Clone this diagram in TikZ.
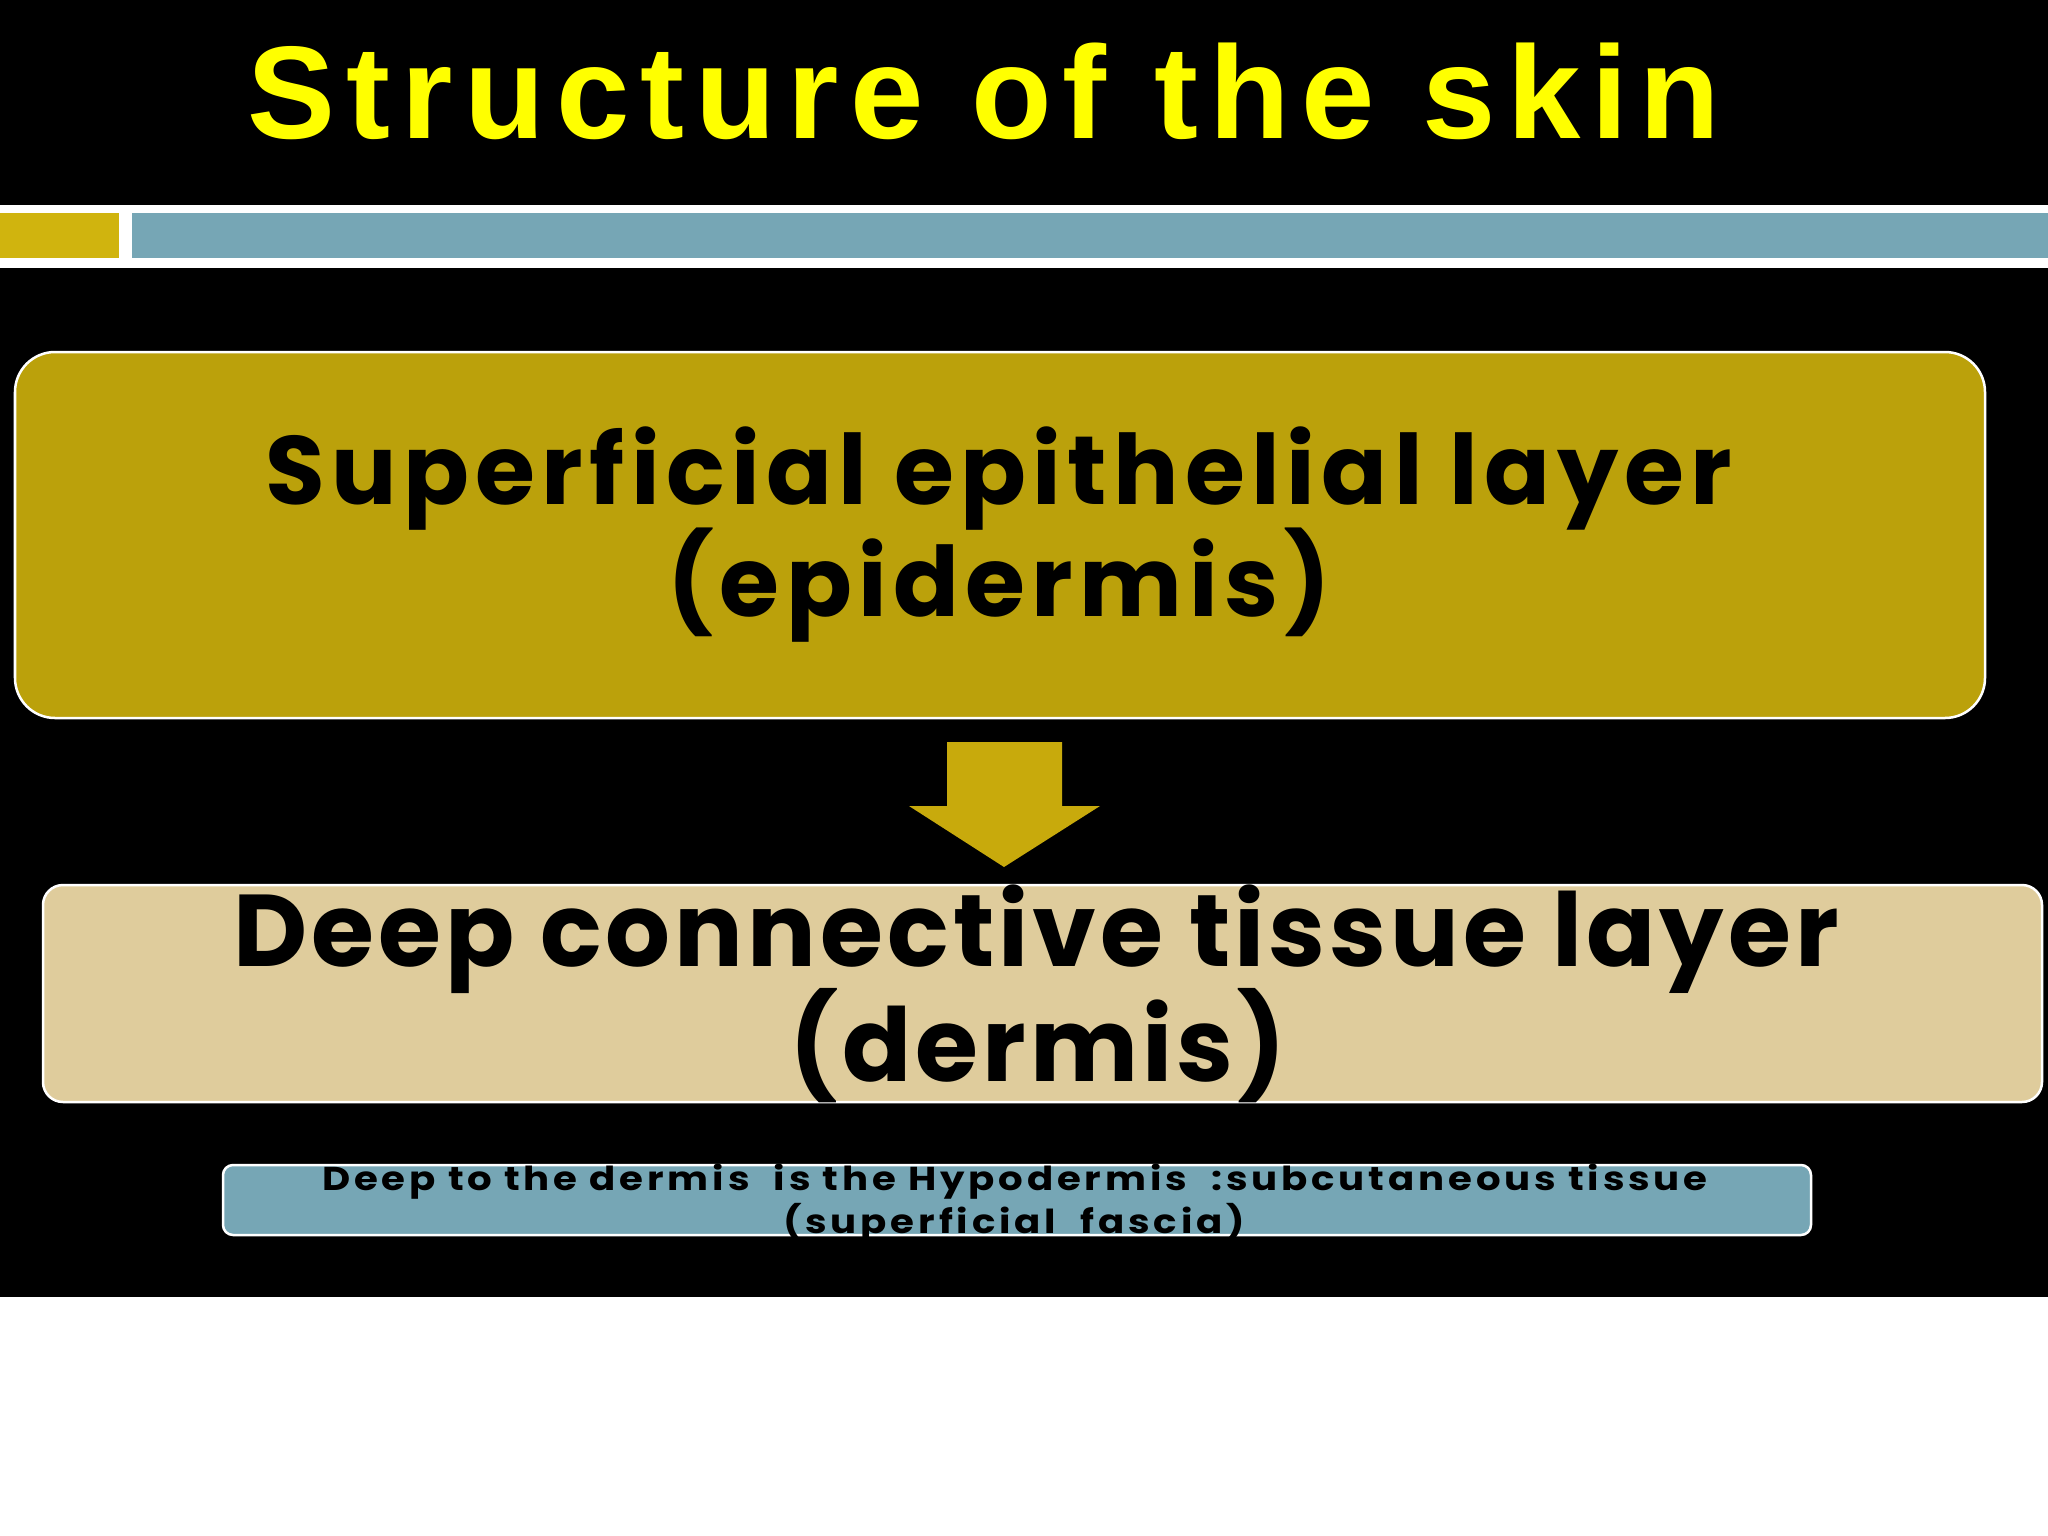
\documentclass[tikz,border=0pt]{standalone}
\usepackage{fontspec}
\usepackage{graphicx}
\setmainfont{Liberation Sans}
\newfontfamily\titlefont{Liberation Sans}[LetterSpace=8.5]
\newfontfamily\epifont{Poppins}[LetterSpace=6.6]
\newfontfamily\dermfont{Poppins}[LetterSpace=4]
\newfontfamily\hypofont{Poppins}[LetterSpace=10]
\definecolor{epigold}{HTML}{BBA10B}
\definecolor{bargold}{HTML}{D0B40E}
\definecolor{arrowgold}{HTML}{C8AA0C}
\definecolor{barblue}{HTML}{76A6B5}
\definecolor{dermisbeige}{HTML}{DFCC9C}
\tikzset{
  layerbox/.style={draw=white, line width=0.025cm},
  linetext/.style={anchor=base, inner sep=0pt, text=black},
  epitext/.style={linetext, font=\epifont\bfseries\fontsize{27.6}{30}\selectfont},
  dermtext/.style={linetext, font=\dermfont\bfseries\fontsize{29}{31}\selectfont},
  hypotext/.style={linetext, font=\hypofont\bfseries\fontsize{9.4}{10}\selectfont},
}
\begin{document}
\begin{tikzpicture}[x=0.01cm,y=-0.01cm]
\useasboundingbox (0,0) rectangle (2048,1536);

\def\SLIDECOLOR{black}
	\fill[white] (0,0) rectangle (2048,1536);
	\fill[\SLIDECOLOR] (0,0) rectangle (2048,1297);

	% title and bar
	\node[linetext, text={rgb,255:red,255;green,255;blue,0}, font=\titlefont\bfseries\fontsize{37.5}{40}\selectfont] (title) at (984,138) {Structure of the skin};
	\fill[white] (0,205) rectangle (2048,268);
	\fill[bargold] (0,213) rectangle (119,258);
	\fill[barblue] (132,213) rectangle (2048,258);

	% epidermis
	\draw[layerbox, fill=epigold, rounded corners=0.4cm] (15,352) rectangle (1985,718);
	\node[epitext] (epione) at (999,504) {Superficial epithelial layer};
	\node[epitext] (epitwo) at (999,616) {(epidermis)};

	% arrow
	\fill[arrowgold] (947,742) -- (1062,742) -- (1062,806) -- (1100,806) -- (1004,867) -- (909,806) -- (947,806) -- cycle;

	% dermis
	\draw[layerbox, fill=dermisbeige, rounded corners=0.2cm] (43,885) rectangle (2042,1102);
	\node[dermtext] (dermone) at (1036,966) {Deep connective tissue layer};
	\node[dermtext] (dermtwo) at (1038,1081) {(dermis)};

	% hypodermis
	\draw[layerbox, fill=barblue, rounded corners=0.1cm] (223,1165) rectangle (1811,1235);
	\node[hypotext] (hypoone) at (1015,1190) {\scalebox{1.17}[1]{Deep to the dermis\ \ is the Hypodermis\ \ :subcutaneous tissue}};
	\node[hypotext] (hypotwo) at (1014,1233) {\scalebox{1.17}[1]{(superficial\ \ fascia)}};

\end{tikzpicture}
\end{document}
